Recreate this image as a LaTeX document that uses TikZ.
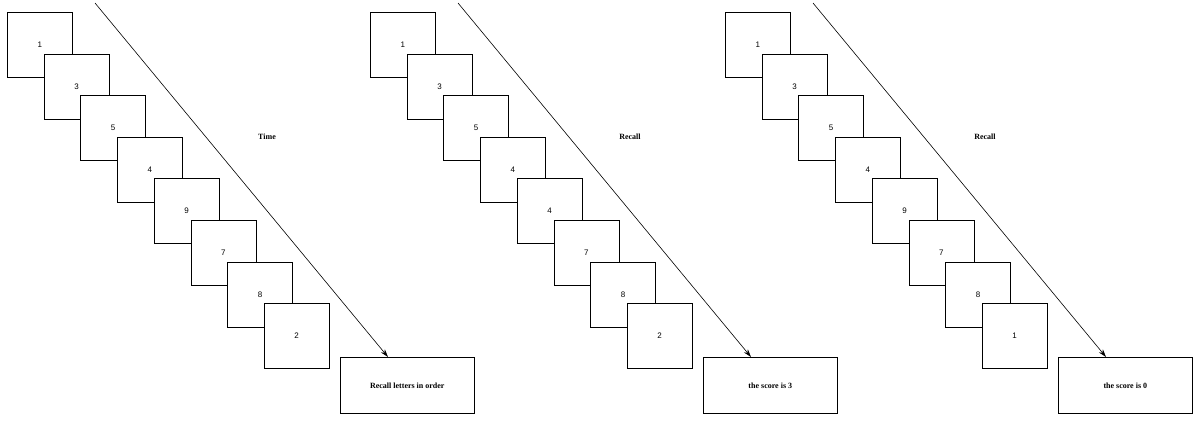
\documentclass[tikz,border=0pt]{standalone}
\usepackage{fontspec}
\setmainfont{Liberation Serif}
\setsansfont{Liberation Sans}
\usetikzlibrary{arrows.meta}
\begin{document}
\begin{tikzpicture}[x=1pt,y=-1pt,
  sq/.style={draw,fill=white,minimum size=65pt,inner sep=0pt,anchor=north west,font=\sffamily\fontsize{8}{9}\selectfont,line width=0.6pt},
  res/.style={draw,minimum width=134pt,minimum height=56pt,anchor=north west,font=\bfseries\fontsize{8}{9}\selectfont,line width=0.6pt},
  lab/.style={font=\bfseries\fontsize{8}{9}\selectfont},
  arr/.style={-{Stealth[length=8pt,width=5pt]},line width=0.6pt}]
\useasboundingbox (0,0) rectangle (1200,424);
\foreach \ox/\nums/\lbl/\txt/\p in {0/{1,3,5,4,9,7,8,2}/Time/Recall letters in order/a,363/{1,3,5,4,4,7,8,2}/Recall/the score is 3/b,718/{1,3,5,4,9,7,8,1}/Recall/the score is 0/c}{
  \foreach \n [count=\i from 0] in \nums {
    \node[sq] (\p\i) at ({\ox+7+36.7*\i},{12+41.6*\i}) {\n};
  }
  \node[res] (\p r) at (\ox+340,357) {\txt};
  \coordinate (\p s) at (\ox+95,3);
  \coordinate (\p e) at (\ox+388,357);
  \draw[arr] (\p s) -- (\p e);
  \node[lab] (\p l) at (\ox+267,137) {\lbl};
}
\end{tikzpicture}
\end{document}
